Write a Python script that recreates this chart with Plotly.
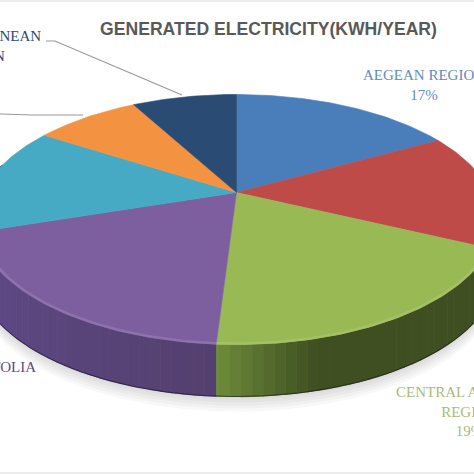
import math
import plotly.graph_objects as go

# ---- data (clockwise from 12 o'clock) ----
regions = ["AEGEAN REGION", "BLACK SEA REGION", "CENTRAL ANATOLIA REGION", "EASTERN ANATOLIA",
           "MARMARA REGION", "SOUTHEASTERN ANATOLIA", "MEDITERRANEAN REGION"]
shares = [17, 15, 19, 19, 14, 8, 8]
top_colors = ["#4a7ebb", "#be4b48", "#98b954", "#7d5fa0", "#46aac5", "#f39240", "#2a4c74"]
side_from = ["#2c4c70", "#72302e", "#3f4f22", "#54406e", "#2c6a7a", "#95591f", "#1a2d46"]
side_to = ["#2c4c70", "#72302e", "#6f8e3b", "#614b8c", "#2c6a7a", "#95591f", "#1a2d46"]
title_text = "GENERATED ELECTRICITY(KWH/YEAR)"

# ---- tilted-disc projection, in page pixels ----
CX, CY = 236.5, 192.5
A, B, K = 254.0, 119.2, 0.216
DEPTH = 52.0
W = H = 474


def project(theta_deg, r=1.0, dz=0.0):
    t = math.radians(theta_deg)
    u, v = r * math.sin(t), r * math.cos(t)
    d = 1 + K * v
    return CX + A * u / d, CY - B * v / d + dz


def arc(a0, a1, r=1.0, dz=0.0, step=1.0):
    n = max(2, int(abs(a1 - a0) / step) + 1)
    pts = [project(a0 + (a1 - a0) * i / (n - 1), r, dz) for i in range(n)]
    return [p[0] for p in pts], [p[1] for p in pts]


def mix(c0, c1, f):
    a = [int(c0[i:i + 2], 16) for i in (1, 3, 5)]
    b = [int(c1[i:i + 2], 16) for i in (1, 3, 5)]
    return "#%02x%02x%02x" % tuple(round(x + (y - x) * f) for x, y in zip(a, b))


def poly(xs, ys, color, line=None, lw=1.2):
    return go.Scatter(x=xs, y=ys, mode="lines", fill="toself", fillcolor=color,
                      line=dict(color=line or color, width=lw), hoverinfo="skip", showlegend=False)


total = sum(shares)
edges = [0.0]
for s in shares:
    edges.append(edges[-1] + 360.0 * s / total)

fig = go.Figure()

# soft shadow under the disc
for extra in (15, 12, 9, 6, 3):
    xs, ys = arc(90, 270, 1.0, DEPTH + extra)
    fig.add_trace(poly(xs, ys, "rgba(60,60,60,0.035)", "rgba(0,0,0,0)", 0))

# side wall, split in shaded strips
for i in range(len(shares)):
    a0, a1 = edges[i], edges[i + 1]
    a = a0
    while a < a1:
        b = min(a + 2.0, a1)
        mid = (a + b) / 2
        if 80 < mid < 285:
            xs0, ys0 = arc(a, b, 1.0, 0.0)
            xs1, ys1 = arc(b, a, 1.0, DEPTH)
            f = (mid - a0) / (a1 - a0)
            if i == 2:  # green wall only lightens close to its left end
                f = max(0.0, (mid - 165) / (a1 - 165)) ** 1.2
            fig.add_trace(poly(xs0 + xs1, ys0 + ys1, mix(side_from[i], side_to[i], f)))
        a = b

# dark lower edge of the wall
xs, ys = arc(100, 262, 1.0, DEPTH)
fig.add_trace(go.Scatter(x=xs, y=ys, mode="lines", line=dict(color="rgba(25,25,35,0.65)", width=1),
                         hoverinfo="skip", showlegend=False))

# top face
for i in range(len(shares)):
    xs, ys = arc(edges[i], edges[i + 1])
    fig.add_trace(poly([CX] + xs + [CX], [CY] + ys + [CY], top_colors[i], lw=0.6))

# bevel highlight along the near rim
for i in (2, 3):
    a0, a1 = max(edges[i], 100), min(edges[i + 1], 262)
    xs, ys = arc(a0, a1, 0.995)
    fig.add_trace(go.Scatter(x=xs, y=ys, mode="lines",
                             line=dict(color=mix(top_colors[i], "#ffffff", 0.12), width=2.5),
                             hoverinfo="skip", showlegend=False))


def px(x):
    return x / W


def py(y):
    return 1 - y / H


def label(x, y, text, color, anchor="center", size=15):
    fig.add_annotation(xref="paper", yref="paper", x=px(x), y=py(y), text=text, showarrow=False,
                       xanchor=anchor, yanchor="middle", align="center",
                       font=dict(family="Liberation Serif", size=size, color=color))


label(424, 85, "AEGEAN REGION<br>17%", "#5f8bbd")
label(469, 411, "CENTRAL ANATOLIA<br>REGION<br>19%", "#a8bc78")
label(38, 367, "EASTERN ANATOLIA", "#5f4a85", anchor="right")
label(-24, 46, "MEDITERRANEAN<br>REGION", "#2c4a70")

shapes = [
    dict(type="rect", xref="paper", yref="paper", x0=0, x1=1, y0=py(2), y1=1, fillcolor="#ececec", line_width=0),
    dict(type="rect", xref="paper", yref="paper", x0=0, x1=1, y0=0, y1=py(472), fillcolor="#ececec", line_width=0),
    dict(type="path", xref="x", yref="y", path="M 46 41 L 55 41 L 182 95", line=dict(color="#9a9a9a", width=1.2)),
    dict(type="path", xref="x", yref="y", path="M 0 114 L 33 115 L 83 115", line=dict(color="#9a9a9a", width=1.2)),
]

fig.update_layout(
    width=W, height=H, autosize=False,
    margin=dict(l=0, r=0, t=0, b=0),
    paper_bgcolor="white", plot_bgcolor="white",
    showlegend=False,
    shapes=shapes,
    title=dict(text="<b>%s</b>" % title_text, x=268.5 / W, xanchor="center", y=py(29), yanchor="middle",
               font=dict(family="Liberation Sans", size=17.6, color="#595959")),
    xaxis=dict(range=[0, W], visible=False, fixedrange=True),
    yaxis=dict(range=[H, 0], visible=False, fixedrange=True),
)
fig.write_html("out.html", config=dict(displayModeBar=False),
               post_script="document.body.style.margin='0';document.body.style.overflow='hidden';")
